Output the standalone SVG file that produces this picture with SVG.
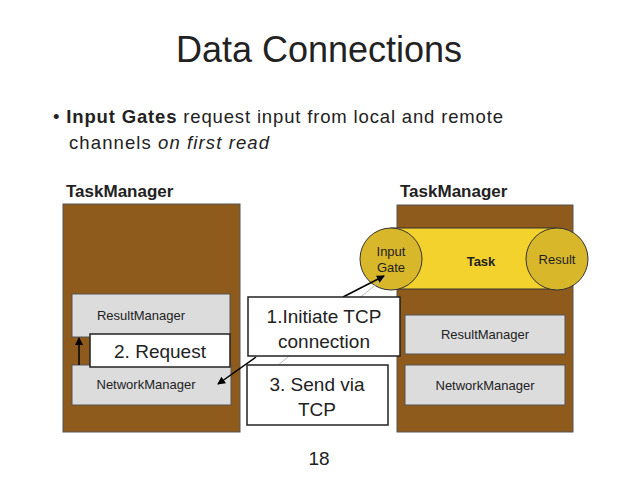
<svg xmlns="http://www.w3.org/2000/svg" width="638" height="479" viewBox="0 0 638 479">
<defs><marker id="ah" markerWidth="8" markerHeight="8" refX="7" refY="4" orient="auto" markerUnits="userSpaceOnUse"><path d="M0,0 L8,4 L0,8 Z" fill="#000"/></marker></defs>
<style>
text{font-family:"Helvetica Neue","Liberation Sans",Arial,sans-serif;fill:#222}
.tm{fill:#8f5b1d;stroke:#555;stroke-width:1}
.mg{fill:#dcdcdd;stroke:#555;stroke-width:1}
.lb{fill:#fff;stroke:#222;stroke-width:1.5}
.gate{fill:#d9b72b;stroke:#333;stroke-width:1}
.s{font-size:13px;text-anchor:middle}
.b{font-size:19px;text-anchor:middle}
</style>
<rect width="638" height="479" fill="#fff"/>
<text x="319" y="62" font-size="36" text-anchor="middle" font-weight="300">Data Connections</text>
<text x="53" y="123" font-size="18.5" textLength="450" lengthAdjust="spacing">• <tspan font-weight="bold">Input Gates</tspan> request input from local and remote</text>
<text x="69" y="149" font-size="18.5" textLength="200" lengthAdjust="spacing">channels <tspan font-style="italic">on first read</tspan></text>
<text x="66" y="197" font-size="17" font-weight="bold">TaskManager</text>
<text x="400" y="197" font-size="17" font-weight="bold">TaskManager</text>
<g id="tm1"><rect class="tm" x="63" y="204" width="177" height="228"/></g>
<g id="rm1"><rect class="mg" x="72" y="294" width="158" height="43"/><text class="s" x="141" y="320">ResultManager</text></g>
<g id="nm1"><rect class="mg" x="72" y="365" width="159" height="40"/><text class="s" x="146" y="389">NetworkManager</text></g>
<g id="tm2"><rect class="tm" x="397" y="205" width="176" height="227"/></g>
<g id="task"><rect x="391" y="228" width="166" height="61" fill="#f3d22e" stroke="#333"/><text x="481" y="266" font-size="13" font-weight="bold" text-anchor="middle">Task</text></g>
<g id="ig"><circle class="gate" cx="391" cy="259" r="31"/><text class="s" x="391" y="256">Input</text><text class="s" x="391" y="272">Gate</text></g>
<g id="res"><circle class="gate" cx="557" cy="259" r="31"/><text class="s" x="557" y="264">Result</text></g>
<g id="rm2"><rect class="mg" x="405" y="315" width="160" height="39"/><text class="s" x="485" y="339">ResultManager</text></g>
<g id="nm2"><rect class="mg" x="405" y="365" width="160" height="40"/><text class="s" x="485" y="390">NetworkManager</text></g>
<g id="connectors" stroke="#000" stroke-width="1.5" fill="none">
<line x1="260" y1="380" x2="385" y2="277" stroke="#bbb" stroke-width="1"/>
<line x1="79" y1="365" x2="79" y2="338" marker-end="url(#ah)"/>
<line x1="343" y1="297" x2="384" y2="276" marker-end="url(#ah)"/>
<line x1="256" y1="357" x2="218" y2="384" marker-end="url(#ah)"/>
</g>
<g id="l2"><rect class="lb" x="90" y="334" width="140" height="33"/><text class="b" x="160" y="358">2. Request</text></g>
<g id="l1"><rect class="lb" x="248" y="297" width="152" height="59"/><text class="b" x="324" y="323">1.Initiate TCP</text><text class="b" x="324" y="348">connection</text></g>
<g id="l3"><rect class="lb" x="247" y="365" width="141" height="60"/><text class="b" x="317" y="391">3. Send via</text><text class="b" x="317" y="416">TCP</text></g>
<text x="319" y="465" font-size="19" text-anchor="middle">18</text>
</svg>
